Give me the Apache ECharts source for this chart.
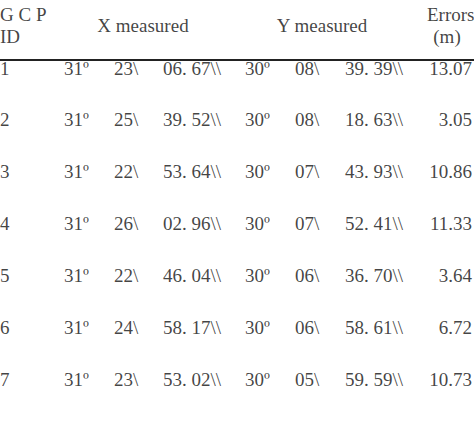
<!DOCTYPE html>
<html>
<head>
<meta charset="utf-8">
<script src="https://cdn.jsdelivr.net/npm/echarts@6/dist/echarts.min.js"></script>
<style>
  html, body { margin: 0; padding: 0; background: #fff; }
  #chart { width: 474px; height: 440px; }
</style>
</head>
<body>
<div id="chart"></div>
<script>
const ids = ['1', '2', '3', '4', '5', '6', '7'];
const xDeg = ['31º', '31º', '31º', '31º', '31º', '31º', '31º'];
const xMin = ['23\\', '25\\', '22\\', '26\\', '22\\', '24\\', '23\\'];
const xSec = ['06. 67\\\\', '39. 52\\\\', '53. 64\\\\', '02. 96\\\\', '46. 04\\\\', '58. 17\\\\', '53. 02\\\\'];
const yDeg = ['30º', '30º', '30º', '30º', '30º', '30º', '30º'];
const yMin = ['08\\', '08\\', '07\\', '07\\', '06\\', '06\\', '05\\'];
const ySec = ['39. 39\\\\', '18. 63\\\\', '43. 93\\\\', '52. 41\\\\', '36. 70\\\\', '58. 61\\\\', '59. 59\\\\'];
const errors = ['13.07', '3.05', '10.86', '11.33', '3.64', '6.72', '10.73'];

// layout
const rowY = [68, 119, 171, 223, 275, 327, 379];
const colX = [0, 64, 114, 163, 245, 295, 345];
const errX = 472;
const font = { fontFamily: '"Liberation Serif", "DejaVu Serif", serif', fontSize: 19, color: '#111' };

const columns = [ids, xDeg, xMin, xSec, yDeg, yMin, ySec];
const cells = [];
columns.forEach((col, c) => {
    col.forEach((txt, r) => {
        cells.push({ value: [colX[c], rowY[r]], text: txt, align: 'left' });
    });
});
errors.forEach((txt, r) => cells.push({ value: [errX, rowY[r]], text: txt, align: 'right' }));

const headers = [
    { value: [0, 14], text: 'G C P', align: 'left' },
    { value: [0, 36], text: 'ID', align: 'left' },
    { value: [143, 25], text: 'X measured', align: 'center' },
    { value: [322, 25], text: 'Y measured', align: 'center' },
    { value: [427, 14], text: 'Errors', align: 'left' },
    { value: [447, 36], text: '(m)', align: 'center' }
];

function toPoint(d) {
    return {
        value: d.value,
        label: { show: true, position: 'inside', formatter: d.text, align: d.align, verticalAlign: 'middle', ...font }
    };
}

const chart = echarts.init(document.getElementById('chart'), null, { renderer: 'svg' });
chart.setOption({
    animation: false,
    grid: { left: 0, right: 0, top: 0, bottom: 0 },
    xAxis: { type: 'value', min: 0, max: 474, show: false },
    yAxis: { type: 'value', min: 0, max: 440, inverse: true, show: false },
    series: [{
        type: 'scatter',
        symbolSize: 0,
        data: headers.concat(cells).map(toPoint),
        markLine: {
            silent: true,
            symbol: 'none',
            label: { show: false },
            lineStyle: { color: '#222', width: 2, type: 'solid' },
            data: [{ yAxis: 60 }]
        }
    }]
});
</script>
</body>
</html>
